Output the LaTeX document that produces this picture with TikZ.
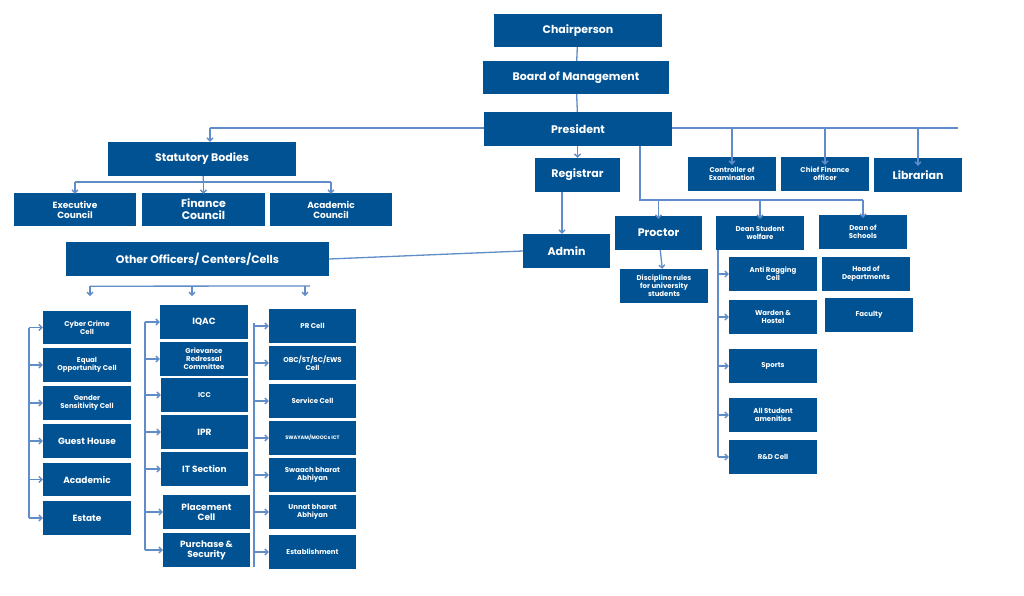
\documentclass[tikz,border=0pt]{standalone}
\usepackage{fontspec}
\setsansfont{Poppins}
\usetikzlibrary{arrows.meta}
\definecolor{boxblue}{RGB}{0,82,147}
\definecolor{linkblue}{RGB}{96,140,200}
\tikzset{
  box/.style={fill=boxblue, text=white, align=center, inner sep=1pt, font=\sffamily\bfseries\fontsize{7}{8}\selectfont},
  big/.style={font=\sffamily\bfseries\fontsize{11}{12}\selectfont},
  mid/.style={font=\sffamily\bfseries\fontsize{9}{10}\selectfont},
  link/.style={draw=linkblue, line width=1.3pt},
  arr/.style={link, -{Straight Barb[length=3pt,width=6pt]}}
}
% box from corner to corner, in pixels
\newcommand{\bx}[7]{\node[box,#6, minimum width={(#4-#2)*1pt}, minimum height={(#5-#3)*1pt}] (#1) at ({(#2+#4)/2},{(#3+#5)/2}) {#7};}

\begin{document}
\begin{tikzpicture}[x=1pt,y=-1pt]
  \useasboundingbox (0,0) rectangle (1024,595);

  % top of the tree
  \bx{chair}{494}{14}{662}{47}{big}{Chairperson}
  \bx{bom}{483}{61}{669}{94}{big}{Board of Management}
  \bx{pres}{484}{112}{672}{146}{big}{President}
  \bx{stat}{108}{142}{296}{176}{big}{Statutory Bodies}
  \bx{exec}{14}{193}{136}{226}{mid}{Executive\\Council}
  \bx{fin}{142}{193}{265}{226}{big}{Finance\\Council}
  \bx{acad}{270}{193}{392}{226}{mid}{Academic\\Council}
  \bx{reg}{535}{158}{620}{192}{big}{Registrar}
  \bx{admin}{523}{234}{610}{268}{big}{Admin}
  \bx{other}{66}{242}{329}{276}{big}{Other Officers/ Centers/Cells}
  \bx{coe}{688}{157}{776}{191}{}{Controller of\\Examination}
  \bx{cfo}{781}{157}{869}{191}{}{Chief Finance\\officer}
  \bx{lib}{874}{158}{962}{192}{big}{Librarian}
  \bx{proc}{615}{216}{702}{250}{big}{Proctor}
  \bx{disc}{620}{269}{708}{303}{}{Discipline rules\\for university\\students}
  \bx{dsw}{716}{216}{804}{250}{}{Dean Student\\welfare}
  \bx{dos}{819}{215}{907}{249}{}{Dean of\\Schools}
  \bx{arc}{729}{257}{817}{291}{}{Anti Ragging\\Cell}
  \bx{hod}{822}{257}{910}{291}{}{Head of\\Departments}
  \bx{ward}{729}{300}{817}{334}{}{Warden \&\\Hostel}
  \bx{fac}{825}{298}{913}{332}{}{Faculty}
  \bx{sport}{729}{349}{817}{383}{}{Sports}
  \bx{amen}{729}{398}{817}{432}{}{All Student\\amenities}
  \bx{rnd}{729}{440}{817}{474}{}{R\&D Cell}

  % cells, left column
  \bx{cyber}{43}{311}{131}{344}{}{Cyber Crime\\Cell}
  \bx{equal}{43}{348}{131}{382}{}{Equal\\Opportunity Cell}
  \bx{gender}{43}{386}{131}{420}{}{Gender\\Sensitivity Cell}
  \bx{guest}{43}{424}{131}{458}{mid}{Guest House}
  \bx{acadc}{43}{463}{131}{496}{mid}{Academic}
  \bx{estate}{43}{501}{131}{535}{mid}{Estate}
  % cells, middle column
  \bx{iqac}{160}{305}{248}{339}{mid}{IQAC}
  \bx{griev}{160}{342}{248}{376}{}{Grievance\\Redressal\\Committee}
  \bx{icc}{161}{378}{248}{412}{}{ICC}
  \bx{ipr}{161}{415}{248}{449}{mid}{IPR}
  \bx{its}{161}{452}{248}{486}{mid}{IT Section}
  \bx{place}{163}{495}{250}{529}{mid}{Placement\\Cell}
  \bx{purch}{163}{533}{250}{567}{mid}{Purchase \&\\Security}
  % cells, right column
  \bx{pr}{269}{309}{356}{343}{}{PR Cell}
  \bx{obc}{269}{346}{356}{380}{}{OBC/ST/SC/EWS\\Cell}
  \bx{serv}{269}{384}{356}{418}{}{Service Cell}
  \bx{swayam}{269}{421}{356}{455}{font=\sffamily\bfseries\fontsize{5}{6}\selectfont}{SWAYAM/MOOCs ICT}
  \bx{swach}{269}{458}{356}{492}{}{Swaach bharat\\Abhiyan}
  \bx{unnat}{269}{495}{356}{529}{}{Unnat bharat\\Abhiyan}
  \bx{estab}{269}{535}{356}{569}{}{Establishment}

  % bars
  \coordinate (pbar) at (0,128);
  \coordinate (sbar) at (0,182);
  \coordinate (dbar) at (640,200);
  \coordinate (obar) at (0,286);
  \coordinate (lbar) at (29,0);
  \coordinate (mbar) at (145,0);
  \coordinate (rbar) at (254,0);
  \coordinate (wbar) at (718,0);

  \draw[link] (chair) -- (bom);
  \draw[link] (bom) -- (pres);
  \draw[link] (pres.west |- pbar) -| (210,128);
  \draw[arr] (210,128) -- (stat.north -| 210,0);
  \draw[link] (pres.east |- pbar) -- (958,128);
  \foreach \n in {coe,cfo,lib} \draw[arr] (\n.north |- pbar) -- ([yshift=-8pt]\n.north);
  \draw[link] (exec.north |- sbar) -- (acad.north |- sbar);
  \draw[link] (stat) -- (fin.north |- sbar);
  \foreach \n in {exec,fin,acad} \draw[arr] (\n.north |- sbar) -- ([yshift=-1pt]\n.north);
  \draw[arr] (pres.south -| reg) -- (reg);
  \draw[arr] (reg.south -| 562,0) -- (admin.north -| 562,0);
  \draw[link] (admin.west) -- (other.east);
  \draw[link] (pres.south -| dbar) -- (dbar) -- (dos.north |- dbar);
  \foreach \n in {proc,dsw,dos} \draw[arr] (\n.north |- dbar) -- ([yshift=-3pt]\n.north);
  \draw[arr] (proc) -- (disc);
  \draw[link] (other.south -| 90,0) ++(0,10) -- (310,286);
  \foreach \x in {90,192,305} \draw[arr] (\x,286) -- (\x,296);
  \draw[link] (dsw.south -| wbar) -- (rnd.west -| wbar);
  \foreach \n in {arc,ward,sport,amen,rnd} \draw[arr] (\n.west -| wbar) -- (\n.west);
  \draw[link] (cyber.west -| lbar) -- (estate.west -| lbar);
  \foreach \n in {cyber,equal,gender,guest,acadc,estate} \draw[arr] (\n.west -| lbar) -- (\n.west);
  \draw[link] (iqac.west -| mbar) -- (purch.west -| mbar);
  \foreach \n in {iqac,griev,icc,ipr,its,place,purch} \draw[arr] (\n.west -| mbar) -- (\n.west);
  \draw[link] (254,323) -- (254,567);
  \foreach \n in {pr,obc,serv,swayam,swach,unnat,estab} \draw[arr] (\n.west -| rbar) -- (\n.west);
\end{tikzpicture}
\end{document}
